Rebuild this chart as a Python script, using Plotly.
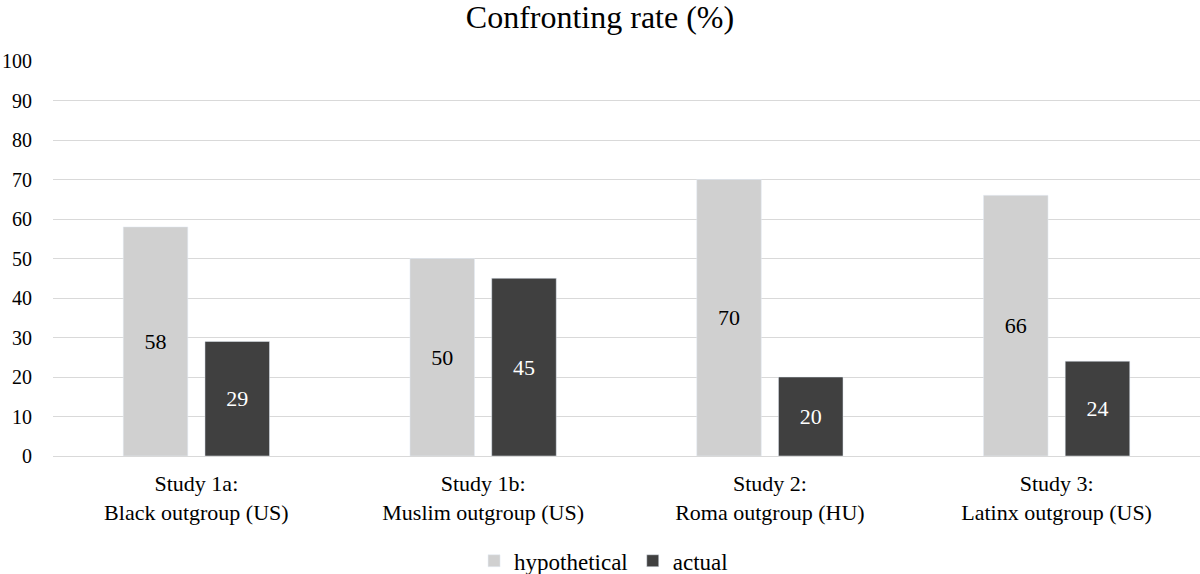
import plotly.graph_objects as go

studies = [
    "Study 1a:<br>Black outgroup (US)",
    "Study 1b:<br>Muslim outgroup (US)",
    "Study 2:<br>Roma outgroup (HU)",
    "Study 3:<br>Latinx outgroup (US)",
]
hypothetical = [58, 50, 70, 66]
actual = [29, 45, 20, 24]

font_name = "Liberation Serif"

fig = go.Figure()
fig.add_trace(go.Bar(
    name="hypothetical", x=studies, y=hypothetical,
    marker={"color": "#d0d0d0"},
    text=hypothetical, textposition="inside", insidetextanchor="middle",
    textfont={"color": "black", "size": 22, "family": font_name}))
fig.add_trace(go.Bar(
    name="actual", x=studies, y=actual,
    marker={"color": "#404040"},
    text=actual, textposition="inside", insidetextanchor="middle",
    textfont={"color": "white", "size": 22, "family": font_name}))

fig.update_layout(
    width=1200, height=574,
    paper_bgcolor="white", plot_bgcolor="white",
    font={"family": font_name, "size": 20, "color": "black"},
    title={"text": "Confronting rate (%)", "x": 0.5, "xanchor": "center",
           "y": 0.970, "yanchor": "middle", "font": {"size": 32}},
    barmode="group", bargap=0.43, bargroupgap=0.21,
    margin={"l": 53, "r": 0, "t": 61, "b": 118},
    showlegend=True,
    legend={"orientation": "h", "x": 0.48, "xanchor": "center",
            "yref": "container", "y": 0.023, "yanchor": "middle",
            "font": {"size": 23}},
    uniformtext={"minsize": 22, "mode": "show"},
)
fig.update_yaxes(range=[0, 100], dtick=10, showgrid=True, gridcolor="#d9d9d9",
                 gridwidth=1, zeroline=False, ticks="", ticklabelstandoff=20,
                 tickfont={"size": 20})
fig.update_xaxes(showline=True, linecolor="#d9d9d9", linewidth=1, ticks="",
                 tickfont={"size": 22}, ticklabelstandoff=8)

fig.write_html("out.html", config={"displayModeBar": False},
               post_script="document.body.style.margin='0';")
